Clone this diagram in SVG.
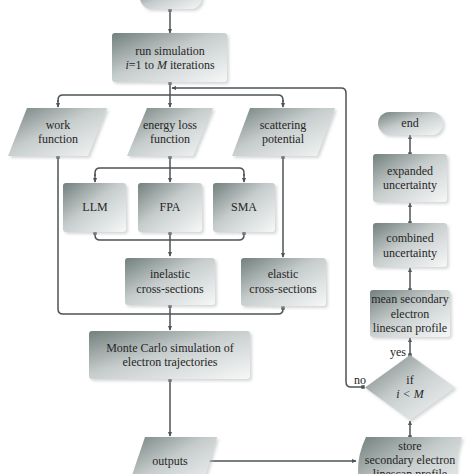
<svg xmlns="http://www.w3.org/2000/svg" width="474" height="474" viewBox="0 0 474 474">
<style>
.n{fill:url(#g);filter:url(#sh)}
.t{font-family:"Liberation Serif","Times New Roman",serif;font-size:12px;fill:#262626;text-anchor:middle}
.c{fill:none;stroke:#4c5456;stroke-width:1.5;marker-end:url(#ar);marker-start:url(#dt)}
.c0{fill:none;stroke:#4c5456;stroke-width:1.5}
</style>
<defs>
<linearGradient id="g" x1="0" y1="0" x2="1" y2="1">
<stop offset="0" stop-color="#72807d"/>
<stop offset="0.45" stop-color="#c6cccc"/>
<stop offset="1" stop-color="#f7f8f8"/>
</linearGradient>
<filter id="sh" x="-10%" y="-10%" width="130%" height="130%">
<feDropShadow dx="2" dy="2" stdDeviation="1.5" flood-color="#b8bcbc" flood-opacity="0.6"/>
</filter>
<marker id="ar" viewBox="0 0 8 8" refX="7" refY="4" markerWidth="5" markerHeight="5" orient="auto" markerUnits="userSpaceOnUse">
<path d="M0,0.5 L8,4 L0,7.5 Z" fill="#4c5456"/>
</marker>
<marker id="dt" viewBox="0 0 4 4" refX="2" refY="2" markerWidth="3.5" markerHeight="3.5" orient="auto" markerUnits="userSpaceOnUse">
<rect x="0" y="0" width="4" height="4" fill="#4c5456"/>
</marker>
</defs>

<g id="connectors">
<path class="c" d="M170 10 V33"/>
<path class="c" d="M170 83 V107"/>
<path class="c0" d="M170 95 H63 Q58 95 58 100 V102"/>
<path class="c" d="M58 100 V107" style="marker-start:none"/>
<path class="c0" d="M170 95 H278 Q283 95 283 100 V102"/>
<path class="c" d="M283 100 V107" style="marker-start:none"/>
<path class="c" d="M363 387 H351 Q346 387 346 382 V93 Q346 88 341 88 H172"/>
<path class="c0" d="M58 157 V309 Q58 314 63 314 H278 Q283 314 283 309 V307"/>
<path class="c" d="M283 308 V307" style="marker-end:none"/>
<path class="c" d="M58 157 V158" style="marker-end:none"/>
<path class="c" d="M170 306 V330"/>
<path class="c" d="M170 157 V182"/>
<path class="c0" d="M170 168 H100 Q95 168 95 173 V176"/>
<path class="c" d="M95 174 V182" style="marker-start:none"/>
<path class="c0" d="M170 168 H239 Q244 168 244 173 V176"/>
<path class="c" d="M244 174 V182" style="marker-start:none"/>
<path class="c0" d="M95 233 V235 Q95 240 100 240 H239 Q244 240 244 235 V233"/>
<path class="c" d="M95 233 V234" style="marker-end:none"/>
<path class="c" d="M244 233 V234" style="marker-end:none"/>
<path class="c" d="M170 233 V256"/>
<path class="c" d="M283 157 V257"/>
<path class="c" d="M170 380 V436"/>
<path class="c" d="M207 461 H356"/>
<path class="c" d="M410 437 V421"/>
<path class="c" d="M410 355 V338"/>
<path class="c" d="M410 290 V268"/>
<path class="c" d="M410 223 V203"/>
<path class="c" d="M410 154 V135"/>
</g>

<g id="start"><rect class="n" x="140" y="-14" width="62" height="23" rx="11.5"/></g>

<g id="run">
<rect class="n" x="112" y="33" width="115" height="49" rx="3"/>
<text class="t" x="170" y="55">run simulation</text>
<text class="t" x="170" y="69"><tspan font-style="italic">i</tspan>=1 to <tspan font-style="italic">M</tspan> iterations</text>
</g>

<g id="work">
<path class="n" d="M27 108 H107 L88 156 H8 Z"/>
<text class="t" x="58" y="129">work</text>
<text class="t" x="58" y="143">function</text>
</g>

<g id="energy">
<path class="n" d="M147 108 H213 L193 156 H127 Z"/>
<text class="t" x="170" y="129">energy loss</text>
<text class="t" x="170" y="143">function</text>
</g>

<g id="scattering">
<path class="n" d="M250 108 H335 L317 156 H232 Z"/>
<text class="t" x="283" y="129">scattering</text>
<text class="t" x="283" y="143">potential</text>
</g>

<g id="llm">
<rect class="n" x="63" y="183" width="63" height="49" rx="3"/>
<text class="t" x="95" y="211">LLM</text>
</g>
<g id="fpa">
<rect class="n" x="138" y="183" width="64" height="49" rx="3"/>
<text class="t" x="170" y="211">FPA</text>
</g>
<g id="sma">
<rect class="n" x="213" y="183" width="62" height="49" rx="3"/>
<text class="t" x="244" y="211">SMA</text>
</g>

<g id="inelastic">
<rect class="n" x="125" y="258" width="90" height="47" rx="3"/>
<text class="t" x="170" y="278">inelastic</text>
<text class="t" x="170" y="293">cross-sections</text>
</g>

<g id="elastic">
<rect class="n" x="241" y="258" width="85" height="48" rx="3"/>
<text class="t" x="283" y="278">elastic</text>
<text class="t" x="283" y="293">cross-sections</text>
</g>

<g id="montecarlo">
<rect class="n" x="89" y="331" width="161" height="48" rx="3"/>
<text class="t" x="170" y="352">Monte Carlo simulation of</text>
<text class="t" x="170" y="366">electron trajectories</text>
</g>

<g id="outputs">
<path class="n" d="M145 437 H217 L201 490 H127 Z"/>
<text class="t" x="170" y="465">outputs</text>
</g>

<g id="store">
<path class="n" d="M366 437 H462 Q450 470 462 503 H366 Q350 470 366 437 Z"/>
<text class="t" x="410" y="450">store</text>
<text class="t" x="410" y="464">secondary electron</text>
<text class="t" x="410" y="478">linescan profile</text>
</g>

<g id="decision">
<path class="n" d="M410 355 L455 387.5 L410 420 L365 387.5 Z"/>
<text class="t" x="410" y="384">if</text>
<text class="t" x="410" y="398" font-style="italic">i &lt; M</text>
</g>

<g id="mean">
<rect class="n" x="370" y="290" width="80" height="47" rx="3"/>
<text class="t" x="410" y="303">mean secondary</text>
<text class="t" x="410" y="318">electron</text>
<text class="t" x="410" y="332">linescan profile</text>
</g>

<g id="combined">
<rect class="n" x="373" y="223" width="74" height="44" rx="3"/>
<text class="t" x="410" y="242">combined</text>
<text class="t" x="410" y="257">uncertainty</text>
</g>

<g id="expanded">
<rect class="n" x="373" y="154" width="74" height="48" rx="3"/>
<text class="t" x="410" y="175">expanded</text>
<text class="t" x="410" y="189">uncertainty</text>
</g>

<g id="end">
<rect class="n" x="378" y="112" width="65" height="23" rx="11.5"/>
<text class="t" x="410" y="127">end</text>
</g>

<g id="labels">
<text class="t" x="360" y="384">no</text>
<text class="t" x="398" y="356">yes</text>
</g>
</svg>
